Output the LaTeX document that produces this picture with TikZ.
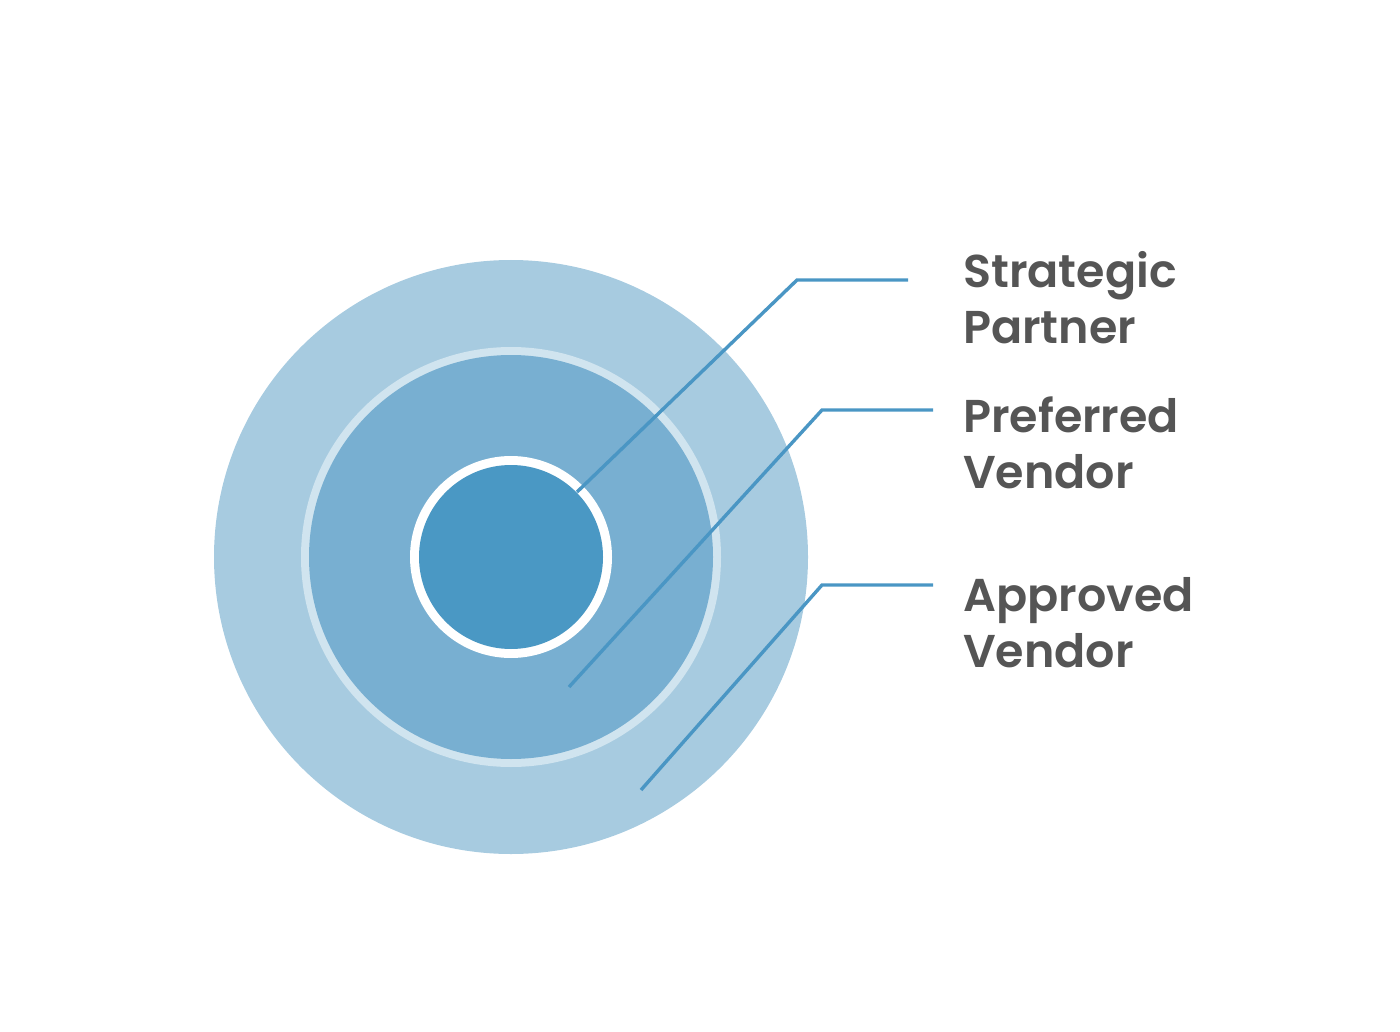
\documentclass[tikz,border=0pt]{standalone}
\usepackage{fontspec}
\setmainfont{Poppins}[UprightFont=* SemiBold]
\definecolor{ringout}{HTML}{A7CBE0}
\definecolor{ringgap}{HTML}{D0E4EF}
\definecolor{ringmid}{HTML}{78AFD1}
\definecolor{ringin}{HTML}{4A98C4}
\definecolor{leader}{HTML}{4A96C4}
\definecolor{labeltext}{HTML}{555555}
\tikzset{
  leaderline/.style={leader, line width=3.4pt},
  tierlabel/.style={anchor=base west, inner sep=0pt, align=left, text=labeltext,
    font=\fontsize{46}{56}\selectfont}
}
\begin{document}
\begin{tikzpicture}[x=1pt, y=-1pt]
    \useasboundingbox (0,0) rectangle (1400,1032);
    %cerchi
    \fill[ringout] (511,557) circle (297);
    \fill[ringgap] (511,557) circle (210);
    \fill[ringmid] (511,557) circle (202);
    \fill[white] (511,557) circle (101);
    \fill[ringin] (511,557) circle (92);
    %etichette (base = ultima riga)
    \node[tierlabel] (strategic) at (963,343) {Strategic\\Partner};
    \node[tierlabel] (preferred) at (963,488) {Preferred\\Vendor};
    \node[tierlabel] (approved) at (963,667) {Approved\\Vendor};
    %linee
    \coordinate (s0) at (577,492);
    \coordinate (s1) at (797,280);
    \coordinate (s2) at (908,280);
    \coordinate (p0) at (569,687);
    \coordinate (p1) at (822,410);
    \coordinate (p2) at (933,410);
    \coordinate (a0) at (641,790);
    \coordinate (a1) at (822,585);
    \coordinate (a2) at (933,585);
    \draw[leaderline] (s0) -- (s1) -- (s2);
    \draw[leaderline] (p0) -- (p1) -- (p2);
    \draw[leaderline] (a0) -- (a1) -- (a2);
\end{tikzpicture}
\end{document}
